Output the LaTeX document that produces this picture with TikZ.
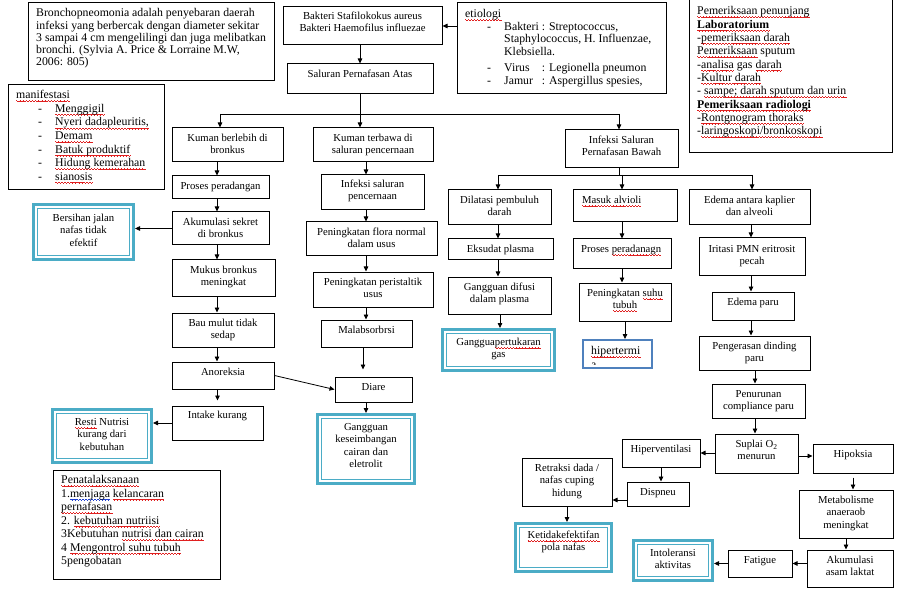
\documentclass[tikz,border=0pt]{standalone}
\usepackage{fontspec}
\setmainfont{Liberation Serif}
\usetikzlibrary{arrows.meta,fit,calc}
\definecolor{teal1}{HTML}{4BACC6}
\definecolor{blue1}{HTML}{4F81BD}
\definecolor{wavered}{HTML}{E02020}
\definecolor{waveblue}{HTML}{2040D0}
\newsavebox\wvbox
\newcommand\wvpat{\hbox{\rule[-2.2pt]{0.75pt}{0.6pt}\rule[-2.7pt]{0.75pt}{0.6pt}\rule[-3.2pt]{0.75pt}{0.6pt}\rule[-2.7pt]{0.75pt}{0.6pt}}}
\newcommand\wvline[3]{\sbox\wvbox{#3}\rlap{\color{#1}\hbox to \wd\wvbox{\xleaders\wvpat\hfill}}\usebox\wvbox}
\newcommand\rw[1]{\wvline{wavered}{}{#1}}
\newcommand\bw[1]{\wvline{waveblue}{}{#1}}
\tikzset{
  box/.style={draw, line width=1pt, inner sep=0pt},
  dbox/.style={draw=teal1, line width=3.3pt, inner sep=0pt},
  txt/.style={inner sep=0pt, align=center, font=\fontsize{10.7}{12.4}\selectfont},
  blk/.style={inner sep=0pt, align=left, anchor=north west, font=\fontsize{11.8}{13.3}\selectfont},
  arr/.style={-{Triangle[length=5pt,width=4.5pt]}, line width=0.8pt},
  ln/.style={line width=0.8pt},
}
\newcommand\plainbox[5]{%
  \path (#2,#3) coordinate (#1-a) (#4,#5) coordinate (#1-b);
  \node[box, fit=(#1-a)(#1-b)] (#1) {};}
\newcommand\flowbox[7]{%
  \plainbox{#1}{#2}{#3}{#4}{#5}
  \node[txt, anchor=north] (#1-t) at ({(#2+#4)/2},{#6-5.4}) {\strut #7};}
\newcommand\flowboxl[8]{%
  \plainbox{#1}{#2}{#3}{#4}{#5}
  \node[txt, anchor=north west] (#1-t) at (#7,{#6-5.4}) {\strut #8};}
\newcommand\dblbox[7]{%
  \path ({#2+1.65},{#3+1.65}) coordinate (#1-a) ({#4-1.65},{#5-1.65}) coordinate (#1-b);
  \node[dbox, fit=(#1-a)(#1-b)] (#1) {};
  \draw[teal1, line width=1pt] ([shift={(3.65,3.65)}]#1-a) rectangle ([shift={(-3.65,-3.65)}]#1-b);
  \node[txt, anchor=north] (#1-t) at ({(#2+#4)/2},{#6-5.4}) {\strut #7};}
\newcommand\itm[1]{\makebox[39pt][l]{\hspace*{22pt}-}#1}
\begin{document}
\begin{tikzpicture}[x=1pt, y=-1pt]
\useasboundingbox (0,0) rectangle (898,591);
\fill[white] (0,0) rectangle (898,591);

% text blocks
\plainbox{def}{28}{3}{274}{81}
\node[blk, font=\fontsize{11.8}{12.3}\selectfont] (def-t) at (36,7.9) {\strut Bronchopneomonia adalah penyebaran daerah\\infeksi yang berbercak dengan diameter sekitar\\3 sampai 4 cm mengelilingi dan juga melibatkan\\bronchi. (Sylvia A. Price \& Lorraine M.W,\\2006: 805)};

\plainbox{manif}{8}{85}{164}{190}
\node[blk, font=\fontsize{11.8}{13.6}\selectfont] (manif-t) at (16,89) {\strut \rw{manifestasi}\\\itm{\rw{Menggigil}}\\\itm{\rw{Nyeri dadapleuritis,}}\\\itm{\rw{Demam}}\\\itm{\rw{Batuk produktif}}\\\itm{\rw{Hidung kemerahan}}\\\itm{\rw{sianosis}}};

\plainbox{etio}{457}{3}{666}{94}
\node[blk, font=\fontsize{11.8}{12.6}\selectfont] (etio-t) at (465,8.7) {\strut \rw{etiologi}\\\itm{Bakteri : Streptococcus,}\\\hspace*{39pt}Staphylococcus, H. Influenzae,\\\hspace*{39pt}Klebsiella.\\[3.5pt]\itm{\makebox[37.7pt][l]{Virus}: Legionella pneumon}\\\itm{\makebox[37.7pt][l]{Jamur}: Aspergillus spesies,}};

\plainbox{pem}{689}{-5}{892}{153}
\node[blk, font=\fontsize{11.8}{13.33}\selectfont] (pem-t) at (697,5.2) {\strut \rw{Pemeriksaan penunjang}\\\textbf{\rw{Laboratorium}}\\-\rw{pemeriksaan darah}\\\rw{Pemeriksaan} sputum\\-\rw{analisa} gas \rw{darah}\\-\rw{Kultur darah}\\- \rw{sampe; darah sputum dan urin}\\\textbf{\rw{Pemeriksaan radiologi}}\\-\rw{Rontgnogram thoraks}\\-\rw{laringoskopi/bronkoskopi}};

\plainbox{pena}{53}{470}{220}{579}
\node[blk, font=\fontsize{11.8}{13.5}\selectfont] (pena-t) at (61,474) {\strut \rw{Penatalaksanaan}\\1.\bw{menjaga} \rw{kelancaran}\\\rw{pernafasan}\\2. \rw{kebutuhan nutriisi}\\3Kebutuhan \rw{nutrisi dan cairan}\\4 \rw{Mengontrol suhu tubuh}\\5pengobatan};

% flow boxes
\flowbox{bakteri}{283}{7}{442}{45}{16}{Bakteri Stafilokokus aureus\\Bakteri Haemofilus influezae}
\flowbox{salatas}{287}{64}{433}{94}{74}{Saluran Pernafasan Atas}
\flowbox{kber}{172}{128}{283}{162}{138}{Kuman berlebih di\\bronkus}
\flowbox{kter}{313}{128}{433}{162}{138}{Kuman terbawa di\\saluran pencernaan}
\flowbox{isb}{565}{130}{678}{168}{140}{Infeksi Saluran\\Pernafasan Bawah}
\flowbox{proses}{172}{176}{269}{199}{186}{Proses peradangan}
\flowbox{infcer}{321}{175}{424}{210}{184}{Infeksi saluran\\pencernaan}
\dblbox{bersihan}{32}{203}{135}{261}{218}{Bersihan jalan\\nafas tidak\\efektif}
\flowbox{aku}{172}{212}{269}{245}{222}{Akumulasi sekret\\di bronkus}
\flowbox{flora}{306}{222}{437}{256}{232}{Peningkatan flora normal\\dalam usus}
\flowbox{mukus}{172}{260}{275}{296}{270}{Mukus bronkus\\meningkat}
\flowbox{peris}{313}{272}{433}{307}{282}{Peningkatan peristaltik\\usus}
\flowbox{bau}{172}{313}{274}{347}{323}{Bau mulut tidak\\sedap}
\flowbox{malab}{321}{320}{412}{347}{330}{Malabsorbrsi}
\flowbox{anor}{172}{362}{274}{389}{372}{Anoreksia}
\flowbox{diare}{335}{377}{412}{402}{387}{Diare}
\flowbox{intake}{172}{406}{263}{440}{415}{Intake kurang}
\dblbox{resti}{51}{408}{153}{464}{422}{\rw{Resti} Nutrisi\\kurang dari\\kebutuhan}
\dblbox{gkc}{316}{413}{416}{485}{427}{Gangguan\\keseimbangan\\cairan dan\\eletrolit}
\flowbox{dila}{448}{190}{551}{225}{200}{Dilatasi pembuluh\\darah}
\flowbox{eks}{448}{239}{553}{260}{249}{Eksudat plasma}
\flowbox{gdif}{448}{277}{551}{314}{287}{Gangguan difusi\\dalam plasma}
\dblbox{gpg}{441}{328}{556}{372}{342}{Ganggua\rw{pertukaran}\\gas}
\flowboxl{masuk}{573}{190}{677}{222}{200}{582}{\rw{Masuk alvioli}}
\flowboxl{prad}{573}{239}{671}{269}{249}{581}{Proses \rw{peradanagn}}
\flowbox{suhu}{579}{283}{671}{321}{293}{Peningkatan \rw{suhu}\\\rw{tubuh}}
\flowbox{edka}{689}{190}{810}{225}{200}{Edema antara kaplier\\dan alveoli}
\flowbox{irit}{699}{238}{805}{275}{249}{Iritasi PMN eritrosit\\pecah}
\flowbox{edpar}{712}{292}{794}{320}{302}{Edema paru}
\flowbox{peng}{699}{336}{810}{370}{346}{Pengerasan dinding\\paru}
\flowbox{penur}{712}{384}{805}{418}{394}{Penurunan\\compliance paru}
\flowbox{sup}{715}{434}{798}{473}{444}{Suplai O\textsubscript{2}\\menurun}
\flowbox{hvent}{622}{439}{700}{467}{449}{Hiperventilasi}
\flowbox{hipok}{813}{444}{893}{473}{454}{Hipoksia}
\flowbox{disp}{627}{482}{689}{506}{492}{Dispneu}
\flowbox{retr}{522}{458}{612}{506}{468}{Retraksi dada /\\nafas cuping\\hidung}
\dblbox{ketid}{514}{522}{613}{573}{535}{\rw{Ketidakefektifan}\\pola nafas}
\flowbox{meta}{799}{490}{893}{538}{500}{Metabolisme\\anaeraob\\meningkat}
\flowbox{akum}{807}{550}{893}{587}{560}{Akumulasi\\asam laktat}
\flowbox{fat}{728}{550}{792}{577}{560}{Fatigue}
\dblbox{intol}{632}{539}{714}{582}{553}{Intoleransi\\aktivitas}

% hipertermi
\path (583,340) coordinate (hiper-a) (652,368) coordinate (hiper-b);
\node[draw=blue1, line width=2pt, inner sep=0pt, fit=(hiper-a)(hiper-b)] (hiper) {};
\begin{scope}
\clip (584,341) rectangle (651,364.8);
\node[blk, font=\fontsize{11.8}{13.8}\selectfont] (hiper-t) at (591,344.8) {\strut \rw{hipertermi}\\a};
\end{scope}

% helper coordinates
\coordinate (r26) at (0,26);
\coordinate (j1) at (360,114);
\coordinate (s1) at (220,114);
\coordinate (s3) at (619,114);
\coordinate (cA) at (217,0);
\coordinate (cB) at (366,0);
\coordinate (cB2) at (363,0);
\coordinate (j2) at (619,175);
\coordinate (t1) at (498,175);
\coordinate (t2) at (622,175);
\coordinate (t3) at (752,175);
\coordinate (cC) at (498,0);
\coordinate (cC2) at (500,0);
\coordinate (cD) at (622,0);
\coordinate (cE) at (751,0);
\coordinate (cE2) at (755,0);
\coordinate (r456) at (0,456);
\coordinate (r500) at (0,500);

% connectors
\draw[arr] (etio.west |- r26) -- (bakteri.east |- r26);
\draw[arr] (bakteri.south -| salatas.north) -- (salatas.north);
\draw[ln] (salatas.south) -- (j1);
\draw[ln] (s1) -- (s3);
\draw[arr] (s1) -- (kber.north -| s1);
\draw[arr] (j1) -- (kter.north -| j1);
\draw[arr] (s3) -- (isb.north -| s3);
\draw[arr] (kber.south -| cA) -- (proses.north -| cA);
\draw[arr] (proses.south -| cA) -- (aku.north -| cA);
\draw[arr] (aku.west) -- (bersihan.east |- aku.west);
\draw[arr] (aku.south -| cA) -- (mukus.north -| cA);
\draw[arr] (mukus.south -| cA) -- (bau.north -| cA);
\draw[arr] (bau.south -| cA) -- (anor.north -| cA);
\draw[arr] (anor.east) -- (diare.west);
\draw[arr, shorten >=5pt] (anor.south -| intake.north) -- (intake.north);
\draw[arr] (intake.west) -- (resti.east |- intake.west);
\draw[arr] (kter.south -| cB) -- (infcer.north -| cB);
\draw[arr] (infcer.south -| cB) -- (flora.north -| cB);
\draw[arr] (flora.south -| cB) -- (peris.north -| cB);
\draw[arr] (peris.south -| cB) -- (malab.north -| cB);
\draw[arr, shorten >=7pt] (malab.south -| cB2) -- (diare.north -| cB2);
\draw[arr] (diare.south -| cB) -- (gkc.north -| cB);
\draw[ln] (isb.south -| j2) -- (j2);
\draw[ln] (t1) -- (t3);
\draw[arr] (t1) -- (dila.north -| t1);
\draw[arr] (t2) -- (masuk.north -| t2);
\draw[arr] (t3) -- (edka.north -| t3);
\draw[arr] (dila.south -| cC) -- (eks.north -| cC);
\draw[arr] (eks.south -| cC) -- (gdif.north -| cC);
\draw[arr] (gdif.south -| cC2) -- (gpg.north -| cC2);
\draw[arr] (masuk.south -| cD) -- (prad.north -| cD);
\draw[arr] (prad.south -| cD) -- (suhu.north -| cD);
\draw[arr] (suhu.south) -- (hiper.north -| suhu.south);
\draw[arr] (edka.south -| cE) -- (irit.north -| cE);
\draw[arr] (irit.south -| cE) -- (edpar.north -| cE);
\draw[arr] (edpar.south -| cE) -- (peng.north -| cE);
\draw[arr] (peng.south -| cE2) -- (penur.north -| cE2);
\draw[arr] (penur.south -| cE2) -- (sup.north -| cE2);
\draw[arr] (sup.west |- hvent.east) -- (hvent.east);
\draw[arr] (sup.east |- r456) -- (hipok.west |- r456);
\draw[arr] (hvent.south) -- (disp.north -| hvent.south);
\draw[arr] (disp.west |- r500) -- (retr.east |- r500);
\draw[arr] (retr.south) -- (ketid.north -| retr.south);
\draw[arr, shorten <=4pt] (hipok.south) -- (meta.north -| hipok.south);
\draw[arr] (meta.south) -- (akum.north -| meta.south);
\draw[arr] (akum.west |- fat.east) -- (fat.east);
\draw[arr] (fat.west) -- (intol.east |- fat.west);
\end{tikzpicture}
\end{document}
